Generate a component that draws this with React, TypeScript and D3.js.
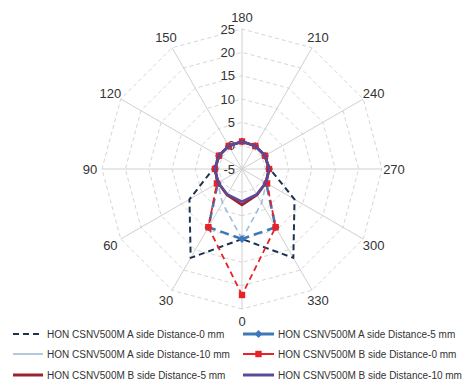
import React from "react";
import * as d3 from "d3";

const angles = [0, 30, 60, 90, 120, 150, 180, 210, 240, 270, 300, 330];
const radialTicks = [-5, 0, 5, 10, 15, 20, 25];
const seriesNames = [
  "HON CSNV500M A side Distance-0 mm",
  "HON CSNV500M A side Distance-5 mm",
  "HON CSNV500M A side Distance-10 mm",
  "HON CSNV500M B side Distance-0 mm",
  "HON CSNV500M B side Distance-5 mm",
  "HON CSNV500M B side Distance-10 mm",
];
const aSide0 = [10, 17, 8, 1.2, 0.7, 0.7, 0.9, 0.7, 0.7, 1.0, 8, 17];
const aSide5 = [10, 9.4, 1.0, 0.8, 0.7, 0.7, 0.9, 0.7, 0.7, 0.8, 1.0, 9.4];
const aSide10 = [10, 3.4, 1.0, 0.8, 0.7, 0.7, 0.9, 0.7, 0.7, 0.8, 1.0, 3.4];
const bSide0 = [22, 9.4, 1.2, 0.8, 0.7, 0.7, 0.9, 0.7, 0.7, 0.8, 1.2, 9.4];
const bSide5 = [2.7, 1.4, 0.9, 0.8, 0.7, 0.7, 0.9, 0.7, 0.7, 0.8, 0.9, 1.4];
const bSide10 = [2.0, 1.3, 0.9, 0.8, 0.7, 0.7, 0.9, 0.7, 0.7, 0.8, 0.9, 1.3];

const W = 474, H = 387;
const cx = 242, cy = 169, R = 140;

type Style = {
  color: string; width: number; dash?: string; marker?: "diamond" | "square";
  legendDash?: string; legendWidth: number;
};
const styles: Style[] = [
  { color: "#1c3350", width: 2, dash: "6,4", legendDash: "6,4", legendWidth: 2 },
  { color: "#3f78b8", width: 2.6, dash: "9,5", marker: "diamond", legendWidth: 3 },
  { color: "#9fbbd9", width: 1.6, dash: "6,4", legendWidth: 1.6 },
  { color: "#e52329", width: 1.8, dash: "6,4", marker: "square", legendWidth: 2 },
  { color: "#9a2231", width: 2.8, legendWidth: 3 },
  { color: "#5b4a98", width: 2.6, legendWidth: 3 },
];
const allSeries = [aSide0, aSide5, aSide10, bSide0, bSide5, bSide10];

export default function App() {
  const r = d3.scaleLinear().domain([-5, 25]).range([0, R]);
  const ang = (a: number) => ((a - 180) * Math.PI) / 180;
  const px = (a: number, rr: number) => cx + rr * Math.sin(ang(a));
  const py = (a: number, rr: number) => cy - rr * Math.cos(ang(a));

  const line = d3
    .lineRadial<number>()
    .angle((_, i) => ang(angles[i]))
    .radius((v) => r(v))
    .curve(d3.curveLinearClosed);

  const ringPath = (v: number) =>
    d3
      .lineRadial<number>()
      .angle((a) => ang(a))
      .radius(() => r(v))
      .curve(d3.curveLinearClosed)(angles) as string;

  const font = "'Liberation Sans', Arial, sans-serif";
  const legendRows = [334, 354, 375];
  const legendCols = [{ x1: 13, x2: 43, tx: 47 }, { x1: 243, x2: 274, tx: 278 }];

  const marker = (m: string | undefined, x: number, y: number, color: string, key: any) => {
    if (m === "square")
      return <rect key={key} x={x - 3.2} y={y - 3.2} width={6.4} height={6.4} fill={color} />;
    if (m === "diamond")
      return (
        <path key={key} d={`M${x},${y - 4}L${x + 4},${y}L${x},${y + 4}L${x - 4},${y}Z`} fill={color} />
      );
    return null;
  };

  const seriesLine = (i: number) => (
    <path key={"s" + i} d={line(allSeries[i]) as string} transform={`translate(${cx},${cy})`} fill="none"
      stroke={styles[i].color} strokeWidth={styles[i].width}
      strokeDasharray={styles[i].dash} strokeLinejoin="round" />
  );

  return (
    <svg width={W} height={H} style={{ position: "absolute", left: 0, top: 0, background: "#fff" }}>
      {/* rings */}
      {radialTicks.slice(1).map((v) => (
        <path key={"ring" + v} d={ringPath(v)} transform={`translate(${cx},${cy})`} fill="none"
          stroke="#d6d6d6" strokeWidth={1} strokeDasharray="4,3" />
      ))}
      {/* spokes */}
      {angles.map((a) => (
        <line key={"sp" + a} x1={cx} y1={cy} x2={px(a, R)} y2={py(a, R)} stroke="#d0d0d0" strokeWidth={1} />
      ))}
      {/* angle labels */}
      {angles.map((a) => (
        <text key={"al" + a} x={px(a, 152)} y={py(a, 152)} textAnchor="middle" dominantBaseline="central"
          fontFamily={font} fontSize={13} fill="#333">{a}</text>
      ))}
      {/* radial tick labels */}
      {radialTicks.map((v) => (
        <text key={"rt" + v} x={cx - 7} y={cy - r(v)} textAnchor="end" dominantBaseline="central"
          fontFamily={font} fontSize={13} fill="#333">{v}</text>
      ))}
      {/* series lines */}
      {[0, 1, 2, 3].map((i) => seriesLine(i))}
      {/* markers */}
      {allSeries.map((s, i) =>
        styles[i].marker
          ? s.map((v, j) =>
              marker(styles[i].marker, px(angles[j], r(v)), py(angles[j], r(v)), styles[i].color, "m" + i + "_" + j))
          : null
      )}
      {[4, 5].map((i) => seriesLine(i))}
      {/* legend */}
      {seriesNames.map((name, i) => {
        const row = legendRows[Math.floor(i / 2)];
        const col = legendCols[i % 2];
        const st = styles[i];
        return (
          <g key={"lg" + i}>
            <line x1={col.x1} x2={col.x2} y1={row} y2={row} stroke={st.color}
              strokeWidth={st.legendWidth} strokeDasharray={st.legendDash} />
            {marker(st.marker, (col.x1 + col.x2) / 2, row, st.color, "lm" + i)}
            <text x={col.tx} y={row} dominantBaseline="central" fontFamily={font} fontSize={10}
              fill="#333">{name}</text>
          </g>
        );
      })}
    </svg>
  );
}
